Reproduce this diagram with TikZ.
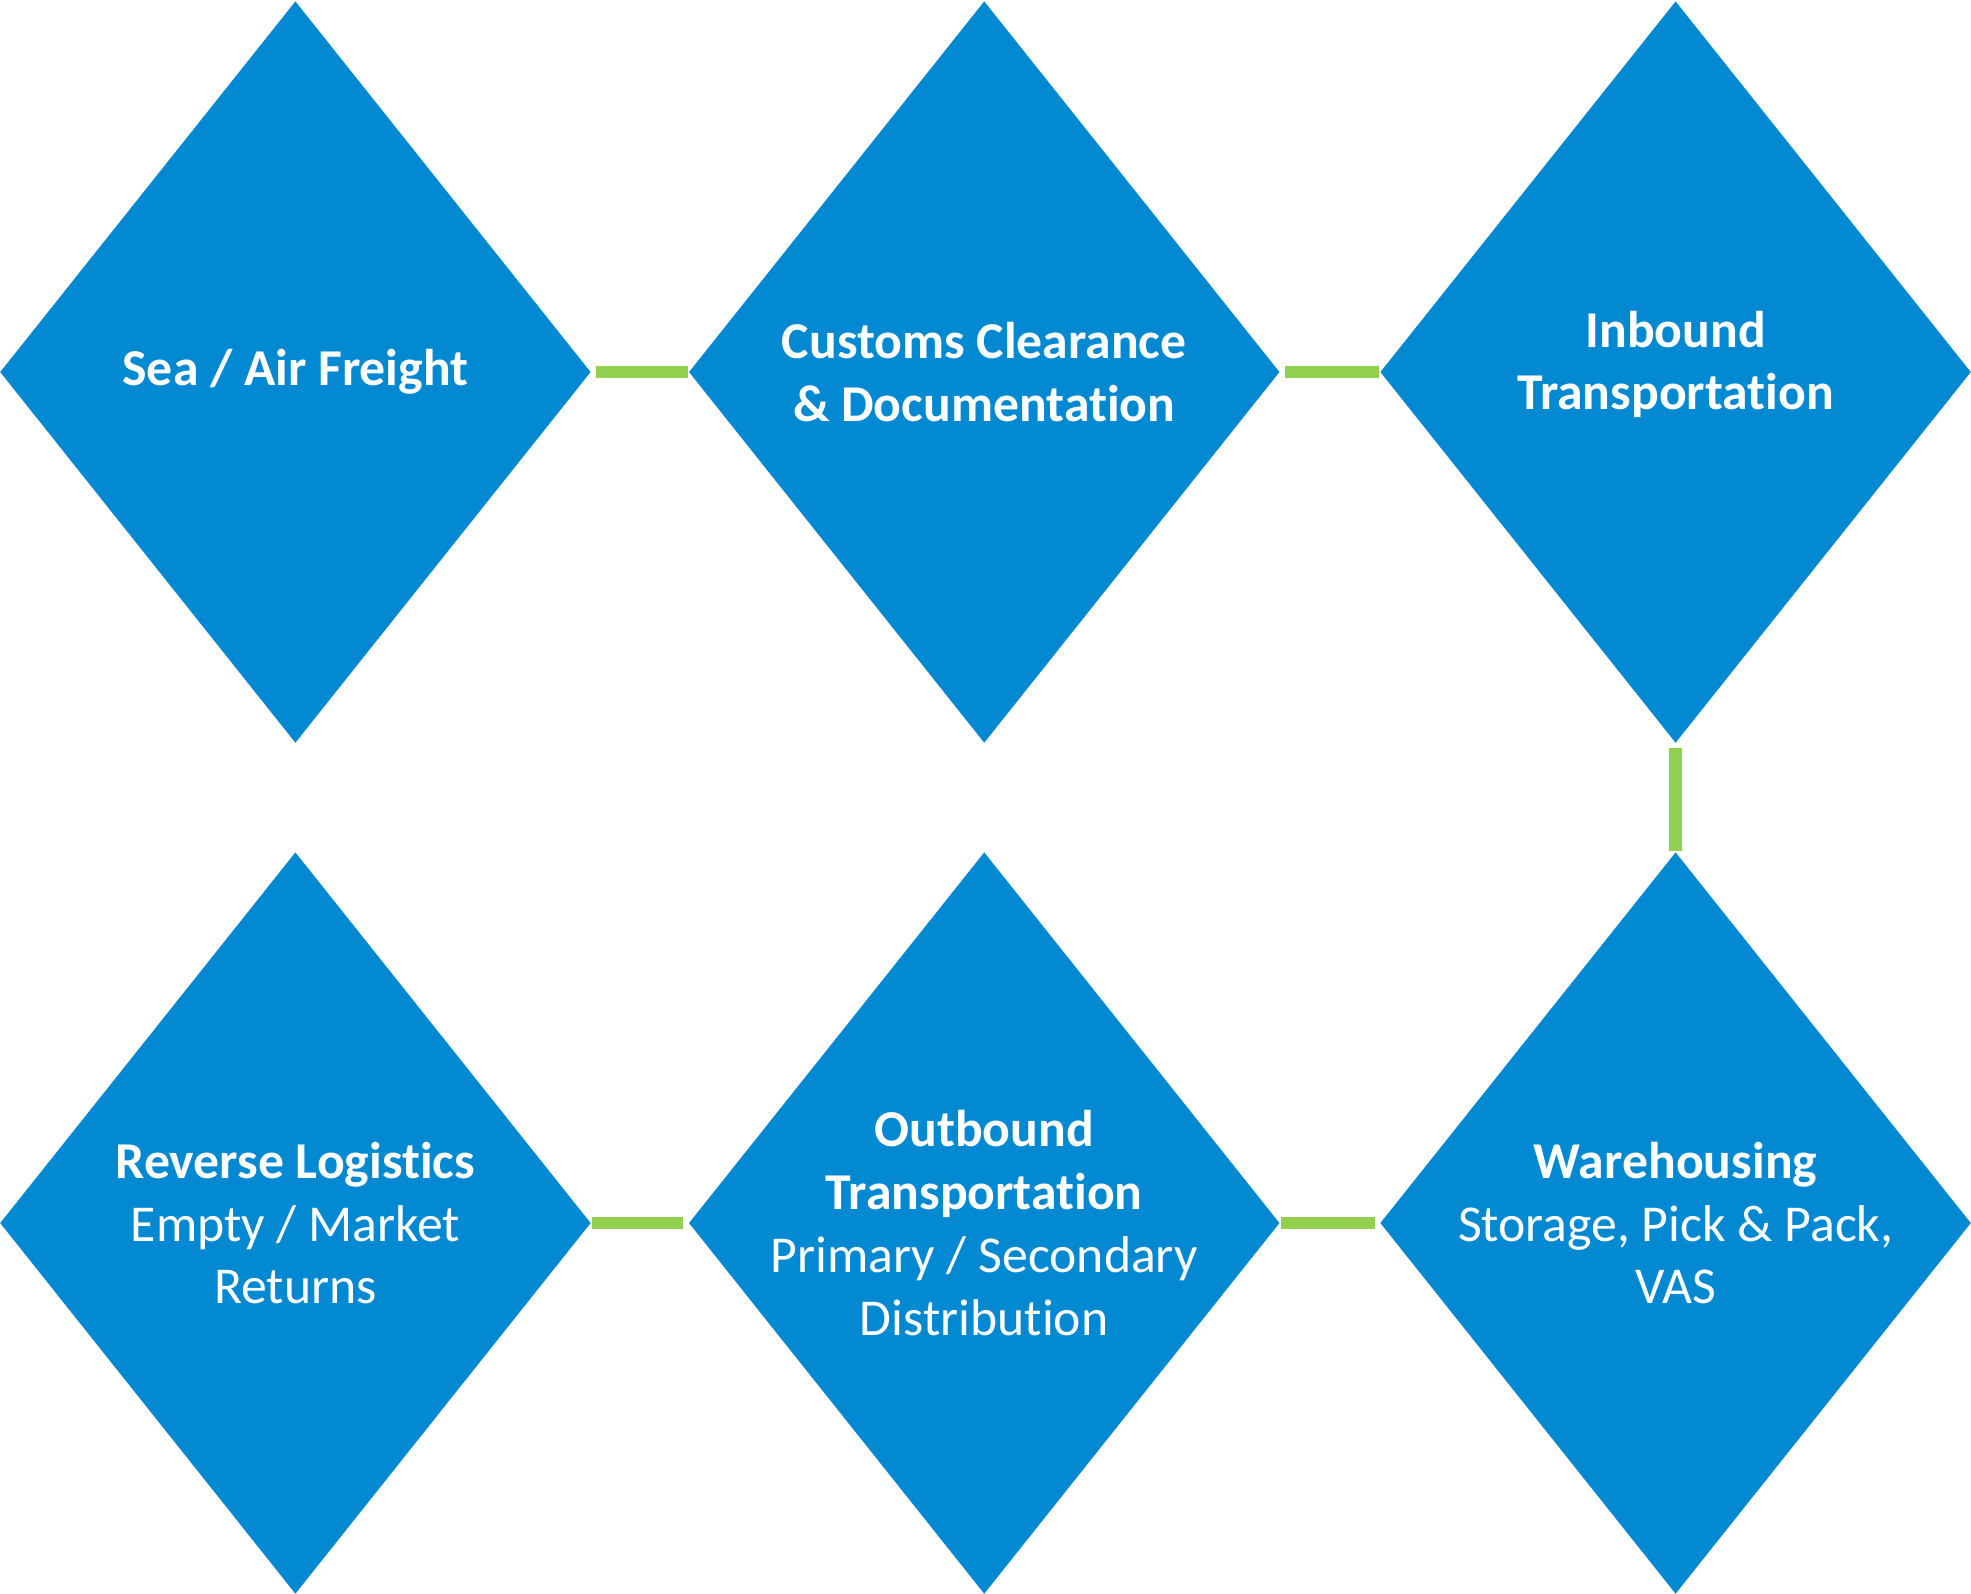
\documentclass[tikz,border=0pt]{standalone}
\usepackage{fontspec}
\setmainfont{Carlito}[Ligatures={NoCommon,NoContextual}]
\usetikzlibrary{shapes.geometric}
\definecolor{stepblue}{HTML}{0389D1}
\definecolor{linkgreen}{HTML}{92D050}
\begin{document}
\begin{tikzpicture}[x=0.01cm,y=-0.01cm]

        \tikzstyle{stepbox}=[diamond,fill=stepblue,minimum width=4.7cm,minimum height=5.9cm,inner sep=0pt]
        \tikzstyle{steptext}=[text=white,align=center,font=\fontsize{11.7}{14.2}\selectfont]
        \tikzstyle{link}=[draw=linkgreen,line width=0.1cm,shorten <=1pt]

        \useasboundingbox (0,0) rectangle (1568,1268);

        \node[stepbox,label={[steptext]center:\textbf{Sea / Air Freight}}] (freight) at (235,296) {};
        \node[stepbox,label={[steptext]center:\textbf{Customs Clearance}\\\textbf{\& Documentation}}] (customs) at (783,296) {};
        \node[stepbox,label={[steptext,yshift=0.06cm]center:\textbf{Inbound}\\\textbf{Transportation}}] (inbound) at (1333,296) {};
        \node[stepbox,label={[steptext]center:\textbf{Reverse Logistics}\\Empty / Market\\Returns}] (reverse) at (235,973) {};
        \node[stepbox,label={[steptext]center:\textbf{Outbound}\\\textbf{Transportation}\\Primary / Secondary\\Distribution}] (outbound) at (783,973) {};
        \node[stepbox,label={[steptext]center:\textbf{Warehousing}\\Storage, Pick \& Pack,\\VAS}] (warehouse) at (1333,973) {};

        \foreach \a / \b in {freight/customs,customs/inbound,inbound/warehouse,warehouse/outbound,outbound/reverse} {
            \draw[link] (\a) -- (\b);
        }

\end{tikzpicture}
\end{document}
